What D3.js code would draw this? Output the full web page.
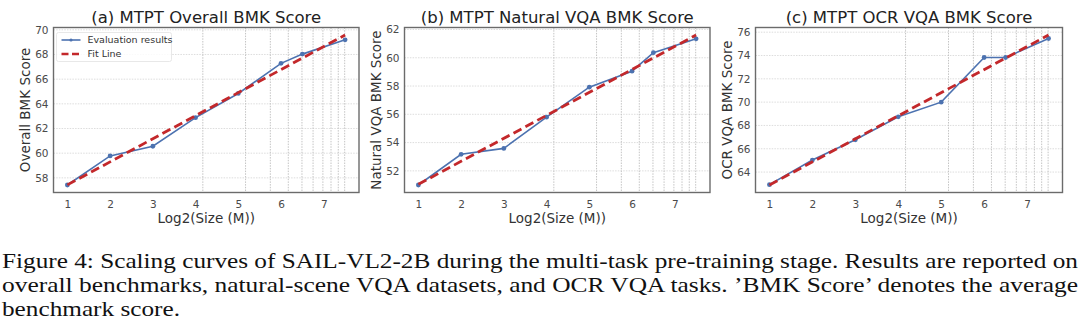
<!DOCTYPE html>
<html>
<head>
<meta charset="utf-8">
<script src="https://cdn.jsdelivr.net/npm/d3@7"></script>
<style>
  html, body { margin: 0; padding: 0; background: #fff; }
  svg { display: block; }
  .tick-label { font-family: "DejaVu Sans", sans-serif; font-size: 10.5px; fill: #4a4a4a; }
  .axis-label { font-family: "DejaVu Sans", sans-serif; font-size: 13.5px; fill: #333; }
  .panel-title { font-family: "DejaVu Sans", sans-serif; font-size: 16.5px; fill: #222; }
  .legend-text { font-family: "DejaVu Sans", sans-serif; font-size: 9.5px; fill: #333; }
  .caption { font-family: "Liberation Serif", "DejaVu Serif", serif; font-size: 21px; fill: #111; }
</style>
</head>
<body>
<div id="chart"></div>
<script>
const W = 1080, H = 336;

// log2 of the pre-training data size (M)
const sizeLog2 = [1, 2, 3, 4, 5, 6, 6.5, 7.5];

const overallScore = [57.42, 59.78, 60.56, 62.88, 64.84, 67.28, 68.03, 69.19];
const naturalScore = [51.0, 53.17, 53.59, 55.8, 57.92, 59.05, 60.36, 61.34];
const ocrScore = [62.92, 65.03, 66.77, 68.74, 70.0, 73.83, 73.83, 75.46];

// fitted line endpoints at x = 1 and x = 7.5
const fitX = [1, 7.5];
const overallFit = [57.43, 69.58];
const naturalFit = [51.05, 61.61];
const ocrFit = [62.89, 75.76];

const xTicks = [1, 2, 3, 4, 5, 6, 7];
const overallTicks = [58, 60, 62, 64, 66, 68, 70];
const naturalTicks = [52, 54, 56, 58, 60, 62];
const ocrTicks = [64, 66, 68, 70, 72, 74, 76];

// vertical grid lines sit at log2(18), log2(36), ... log2(180)
const gridX = [4.17, 5.17, 5.75, 6.17, 6.49, 6.75, 6.98, 7.17, 7.34, 7.49];

const titles = ["(a) MTPT Overall BMK Score", "(b) MTPT Natural VQA BMK Score", "(c) MTPT OCR VQA BMK Score"];
const yLabels = ["Overall BMK Score", "Natural VQA BMK Score", "OCR VQA BMK Score"];
const xLabel = "Log2(Size (M))";

const captionLines = [
  "Figure 4: Scaling curves of SAIL-VL2-2B during the multi-task pre-training stage. Results are reported on",
  "overall benchmarks, natural-scene VQA datasets, and OCR VQA tasks. \u2019BMK Score\u2019 denotes the average",
  "benchmark score."
];

const BLUE = "#4c72b0";
const RED = "#c3282b";

const panels = [
  { title: titles[0], ylabel: yLabels[0], scores: overallScore, fit: overallFit, ticks: overallTicks, left: 53.5, right: 359, legend: true },
  { title: titles[1], ylabel: yLabels[1], scores: naturalScore, fit: naturalFit, ticks: naturalTicks, left: 404.5, right: 710 },
  { title: titles[2], ylabel: yLabels[2], scores: ocrScore, fit: ocrFit, ticks: ocrTicks, left: 755.5, right: 1062.5 }
];
const TOP = 27.5, BOTTOM = 192.5;

const svg = d3.select("#chart").append("svg")
  .attr("width", W)
  .attr("height", H);

// matplotlib-style 5% autoscale margins
function padded(lo, hi) {
  const m = (hi - lo) * 0.05;
  return [lo - m, hi + m];
}

panels.forEach(p => {
  const g = svg.append("g");

  const x = d3.scaleLinear()
    .domain(padded(d3.min(sizeLog2), d3.max(sizeLog2)))
    .range([p.left, p.right]);
  const allY = p.scores.concat(p.fit);
  const y = d3.scaleLinear()
    .domain(padded(d3.min(allY), d3.max(allY)))
    .range([BOTTOM, TOP]);

  g.append("g").selectAll("line.hgrid")
    .data(p.ticks)
    .join("line")
    .attr("x1", p.left).attr("x2", p.right)
    .attr("y1", d => y(d)).attr("y2", d => y(d))
    .attr("stroke", "#d4d4d4")
    .attr("stroke-width", 0.8)
    .attr("stroke-dasharray", "1.5,1.2");

  g.append("g").selectAll("line.vgrid")
    .data(gridX)
    .join("line")
    .attr("x1", d => x(d)).attr("x2", d => x(d))
    .attr("y1", TOP).attr("y2", BOTTOM)
    .attr("stroke", "#c4c4c4")
    .attr("stroke-width", 1)
    .attr("stroke-dasharray", "1.5,1.2");

  // axes drawn without tick marks, labels only
  const xAxis = g.append("g")
    .attr("transform", `translate(0,${BOTTOM})`)
    .call(d3.axisBottom(x).tickValues(xTicks).tickSize(0).tickPadding(8).tickFormat(d3.format("d")));
  const yAxis = g.append("g")
    .attr("transform", `translate(${p.left},0)`)
    .call(d3.axisLeft(y).tickValues(p.ticks).tickSize(0).tickPadding(5).tickFormat(d3.format("d")));
  [xAxis, yAxis].forEach(a => {
    a.select(".domain").remove();
    a.selectAll("text").attr("class", "tick-label").attr("fill", null).attr("font-size", null).attr("font-family", null);
  });

  const fitData = fitX.map((v, i) => [v, p.fit[i]]);
  const evalData = sizeLog2.map((v, i) => [v, p.scores[i]]);
  const line = d3.line().x(d => x(d[0])).y(d => y(d[1]));

  g.append("path")
    .datum(evalData)
    .attr("d", line)
    .attr("fill", "none")
    .attr("stroke", BLUE)
    .attr("stroke-width", 1.6);
  g.selectAll("circle.pt")
    .data(evalData)
    .join("circle")
    .attr("cx", d => x(d[0]))
    .attr("cy", d => y(d[1]))
    .attr("r", 2.4)
    .attr("fill", BLUE);

  g.append("path")
    .datum(fitData)
    .attr("d", line)
    .attr("fill", "none")
    .attr("stroke", RED)
    .attr("stroke-width", 2.8)
    .attr("stroke-dasharray", "9,4.5");

  g.append("rect")
    .attr("x", p.left).attr("y", TOP)
    .attr("width", p.right - p.left).attr("height", BOTTOM - TOP)
    .attr("fill", "none")
    .attr("stroke", "#6b6b6b")
    .attr("stroke-width", 1.4);

  const cx = (p.left + p.right) / 2;
  g.append("text")
    .attr("class", "panel-title")
    .attr("x", cx).attr("y", 22.5)
    .attr("text-anchor", "middle")
    .text(p.title);

  g.append("text")
    .attr("class", "axis-label")
    .attr("x", cx).attr("y", 222.5)
    .attr("text-anchor", "middle")
    .text(xLabel);

  g.append("text")
    .attr("class", "axis-label")
    .attr("transform", `translate(${p.left - 24},${(TOP + BOTTOM) / 2}) rotate(-90)`)
    .attr("text-anchor", "middle")
    .text(p.ylabel);

  if (p.legend) {
    const lg = g.append("g").attr("transform", `translate(${p.left + 3},${TOP + 5})`);
    lg.append("rect")
      .attr("width", 115).attr("height", 29)
      .attr("rx", 2)
      .attr("fill", "#fff").attr("fill-opacity", 0.85)
      .attr("stroke", "#e2e2e2").attr("stroke-width", 0.8);
    lg.append("line")
      .attr("x1", 5).attr("x2", 24).attr("y1", 7.5).attr("y2", 7.5)
      .attr("stroke", BLUE).attr("stroke-width", 1.6);
    lg.append("circle").attr("cx", 14.5).attr("cy", 7.5).attr("r", 1.6).attr("fill", BLUE);
    lg.append("text").attr("class", "legend-text").attr("x", 31).attr("y", 10.8).text("Evaluation results");
    lg.append("line")
      .attr("x1", 5).attr("x2", 24).attr("y1", 21.5).attr("y2", 21.5)
      .attr("stroke", RED).attr("stroke-width", 2.6).attr("stroke-dasharray", "7,3.5");
    lg.append("text").attr("class", "legend-text").attr("x", 31).attr("y", 24.8).text("Fit Line");
  }
});

// caption: full lines are justified to the text width; the last line keeps
// the same horizontal stretch so the glyphs match
const CAPTION_WIDTH = 1076;
const capY = [268, 292, 316];
const capText = captionLines.map((t, i) => svg.append("text")
  .attr("class", "caption")
  .attr("x", 2)
  .attr("y", capY[i])
  .text(t));
const stretch = CAPTION_WIDTH / capText[0].node().getComputedTextLength();
capText.forEach((txt, i) => {
  const len = i < captionLines.length - 1 ? CAPTION_WIDTH : txt.node().getComputedTextLength() * stretch;
  txt.attr("textLength", len).attr("lengthAdjust", "spacingAndGlyphs");
});
</script>
</body>
</html>
